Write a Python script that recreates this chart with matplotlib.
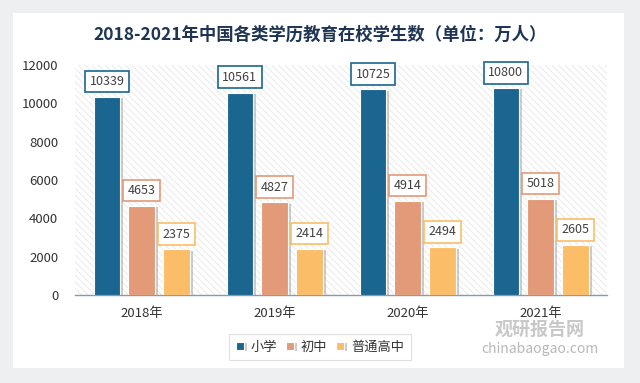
import matplotlib
matplotlib.use("Agg")
import matplotlib.pyplot as plt
import matplotlib.patheffects as pe
from matplotlib.patches import Rectangle
import numpy as np

plt.rcParams["font.family"] = ["Noto Sans CJK SC", "DejaVu Sans"]
plt.rcParams["hatch.color"] = "#e6e6e6"
plt.rcParams["hatch.linewidth"] = 0.6

years = ["2018年", "2019年", "2020年", "2021年"]
series = ["小学", "初中", "普通高中"]
primary = [10339, 10561, 10725, 10800]
junior = [4653, 4827, 4914, 5018]
senior = [2375, 2414, 2494, 2605]
colors = ["#1a6690", "#e39a78", "#fbbd68"]

W, H = 640, 383
fig = plt.figure(figsize=(W / 100, H / 100), dpi=100)
fig.patch.set_facecolor("#eeeff1")

# white card behind everything
bg = fig.add_axes([0, 0, 1, 1], zorder=-10)
bg.set_xlim(0, W)
bg.set_ylim(H, 0)
bg.axis("off")
bg.add_patch(Rectangle((13, 13), 611, 355, facecolor="white", edgecolor="none"))

fig.text(320 / W, 1 - 35 / H, "2018-2021年中国各类学历教育在校学生数（单位：万人）",
         ha="center", va="center", fontsize=12.5, color="#1d3553", fontweight="bold")

ax = fig.add_axes([75 / W, 1 - 295 / H, (607 - 75) / W, (295 - 65) / H])
ax.set_facecolor("none")
ax.add_patch(Rectangle((0, 0), 1, 1, transform=ax.transAxes, facecolor="white",
                       edgecolor="#e6e6e6", hatch="\\\\\\\\\\", lw=0, zorder=0))

x = np.arange(len(years))
width = 0.2
offs = [-0.26, 0.0, 0.265]
for vals, col, off, name in zip([primary, junior, senior], colors, offs, series):
    bars = ax.bar(x + off, vals, width, color=col, label=name, zorder=3,
                  edgecolor="white", lw=0.8)
    for b in bars:
        b.set_path_effects([pe.SimplePatchShadow(offset=(2, -1), shadow_rgbFace="#9a9a9a", alpha=0.5),
                            pe.Normal()])
    for xi, v in zip(x + off, vals):
        ax.annotate(f"{v}", (xi, v), xytext=(0, 11), textcoords="offset points",
                    ha="center", va="center", fontsize=9, color="#404040", zorder=5,
                    bbox=dict(boxstyle="square,pad=0.35", fc="white", ec=col, lw=1.2))

ax.set_xlim(-0.5, 3.5)
ax.set_ylim(0, 12000)
ax.set_yticks(range(0, 12001, 2000))
ax.set_xticks(x)
ax.set_xticklabels(years)
ax.tick_params(axis="both", length=0, labelsize=9.5, labelcolor="#333333")
ax.tick_params(axis="x", pad=9)
ax.tick_params(axis="y", pad=12)
for s in ["top", "right", "left"]:
    ax.spines[s].set_visible(False)
ax.spines["bottom"].set_color("#8a9aa8")
ax.spines["bottom"].set_linewidth(1)

leg = ax.legend(loc="center", bbox_to_anchor=(320 / W, 1 - 347 / H), bbox_transform=fig.transFigure,
                ncol=3, frameon=True, fancybox=False, fontsize=9.5, handlelength=0.6,
                handleheight=0.6, handletextpad=0.5, columnspacing=0.7, borderpad=0.5)
leg.get_frame().set_edgecolor("#d8d8d8")
leg.get_frame().set_linewidth(0.8)
for t in leg.get_texts():
    t.set_color("#333333")

fig.text(540 / W, 1 - 329 / H, "观研报告网", ha="center", va="center", fontsize=13,
         color="#c8c8c8", fontweight="bold")
fig.text(540 / W, 1 - 349 / H, "chinabaogao.com", ha="center", va="center", fontsize=10,
         color="#b8b8b8")

fig.savefig("out.png", dpi=100, facecolor=fig.get_facecolor())
